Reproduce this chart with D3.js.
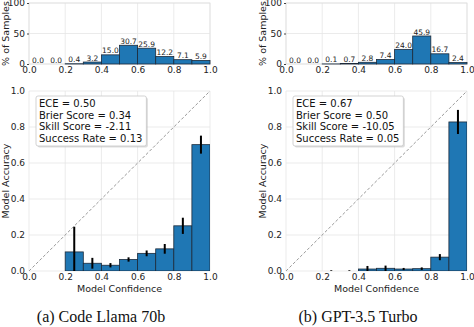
<!DOCTYPE html>
<html><head><meta charset="utf-8">
<script src="https://cdn.jsdelivr.net/npm/d3@7/dist/d3.min.js"></script>
<style>body{margin:0;background:#fff}svg{display:block}</style>
</head><body>
<svg id="c" width="474" height="327"></svg>
<script>
// ---- data ----
const binLower = [0.0,0.1,0.2,0.3,0.4,0.5,0.6,0.7,0.8,0.9];
const xTickLabels = ["0.0","0.2","0.4","0.6","0.8","1.0"];
const histTickLabels = ["0","50","100"];
const accTickLabels = ["0.0","0.2","0.4","0.6","0.8","1.0"];

const llamaSamples  = [0.0,0.0,0.4,3.2,15.0,30.7,25.9,12.2,7.1,5.9];
const llamaAccuracy = [null,null,0.106,0.043,0.032,0.064,0.098,0.123,0.251,0.702];
const llamaError    = [null,null,0.14,0.03,0.012,0.012,0.016,0.027,0.045,0.05];
const llamaStats = ["ECE = 0.50","Brier Score = 0.34","Skill Score = -2.11","Success Rate = 0.13"];
const llamaCaption = "(a) Code Llama 70b";

const gptSamples  = [0.0,0.0,0.1,0.7,2.8,7.4,24.0,45.9,16.7,2.4];
const gptAccuracy = [null,null,0.0,0.0,0.011,0.015,0.011,0.013,0.077,0.828];
const gptError    = [null,null,0.004,0.004,0.017,0.015,0.006,0.007,0.017,0.067];
const gptStats = ["ECE = 0.67","Brier Score = 0.50","Skill Score = -10.05","Success Rate = 0.05"];
const gptCaption = "(b) GPT-3.5 Turbo";

// ---- drawing ----
const svg = d3.select("#c");
const FONT = "DejaVu Sans, sans-serif";
const BAR = "#1f77b4", EDGE = "#1c2a3a", GRID = "#e6e6e6";

function panel(x0, samples, acc, err, stats, caption, clipId) {
  const g = svg.append("g");
  const x = d3.scaleLinear().domain([0,1]).range([x0, x0+181]);
  const yh = d3.scaleLinear().domain([0,100]).range([64,3]);
  const ya = d3.scaleLinear().domain([0,1]).range([271,91]);
  const xt = xTickLabels.map(Number);

  // ---- histogram ----
  g.append("g").selectAll("line").data(xt).join("line")
    .attr("x1",d=>x(d)).attr("x2",d=>x(d)).attr("y1",yh(0)).attr("y2",yh(100))
    .attr("stroke",GRID).attr("stroke-width",0.8);
  g.append("g").selectAll("line").data(histTickLabels.map(Number)).join("line")
    .attr("x1",x(0)).attr("x2",x(1)).attr("y1",d=>yh(d)).attr("y2",d=>yh(d))
    .attr("stroke",GRID).attr("stroke-width",0.8);
  g.append("rect").attr("x",x(0)).attr("y",yh(100)).attr("width",x(1)-x(0)).attr("height",yh(0)-yh(100))
    .attr("fill","none").attr("stroke","#e0e0e0").attr("stroke-width",0.8);
  g.append("g").selectAll("rect").data(binLower).join("rect")
    .attr("x",d=>x(d)).attr("width",d=>x(d+0.1)-x(d))
    .attr("y",(d,i)=>yh(samples[i])).attr("height",(d,i)=>yh(0)-yh(samples[i]))
    .attr("fill",BAR).attr("stroke",EDGE).attr("stroke-width",0.8);
  g.append("g").selectAll("text").data(binLower).join("text")
    .attr("x",d=>x(d+0.05)).attr("y",(d,i)=>yh(samples[i])-1.5)
    .attr("text-anchor","middle").attr("font-family",FONT).attr("font-size",7.5).attr("fill","#222")
    .text((d,i)=>samples[i].toFixed(1));
  // axes hist
  const hx = d3.axisBottom(x).tickValues(xt).tickFormat((d,i)=>xTickLabels[i]).tickSize(0).tickPadding(3);
  const hxg = g.append("g").attr("transform",`translate(0,${yh(0)})`).call(hx);
  const hy = d3.axisLeft(yh).tickValues(histTickLabels.map(Number)).tickFormat((d,i)=>histTickLabels[i]).tickSize(2).tickPadding(2);
  const hyg = g.append("g").attr("transform",`translate(${x(0)},0)`).call(hy);
  [hxg,hyg].forEach(a=>{a.select(".domain").remove();
    a.selectAll("text").attr("font-family",FONT).attr("font-size",9).attr("fill","#222");
    a.selectAll("line").attr("stroke","#444");});
  g.append("text").attr("transform",`translate(${x0-20.5},${(yh(0)+yh(100))/2}) rotate(-90)`)
    .attr("text-anchor","middle").attr("font-family",FONT).attr("font-size",9.5).attr("fill","#222")
    .text("% of Samples");

  // ---- reliability ----
  const yt = accTickLabels.map(Number);
  g.append("g").selectAll("line").data(xt).join("line")
    .attr("x1",d=>x(d)).attr("x2",d=>x(d)).attr("y1",ya(0)).attr("y2",ya(1))
    .attr("stroke",GRID).attr("stroke-width",0.8);
  g.append("g").selectAll("line").data(yt).join("line")
    .attr("x1",x(0)).attr("x2",x(1)).attr("y1",d=>ya(d)).attr("y2",d=>ya(d))
    .attr("stroke",GRID).attr("stroke-width",0.8);
  g.append("line").attr("x1",x(0)).attr("y1",ya(0)).attr("x2",x(1)).attr("y2",ya(1))
    .attr("stroke","#999").attr("stroke-width",1).attr("stroke-dasharray","3,2");
  svg.append("clipPath").attr("id",clipId).append("rect")
    .attr("x",x(0)).attr("y",ya(1)).attr("width",x(1)-x(0)).attr("height",ya(0)-ya(1));
  const idx = binLower.map((d,i)=>i).filter(i=>acc[i]!==null);
  const pg = g.append("g").attr("clip-path",`url(#${clipId})`);
  pg.selectAll("rect").data(idx).join("rect")
    .attr("x",i=>x(binLower[i])).attr("width",i=>x(binLower[i]+0.1)-x(binLower[i]))
    .attr("y",i=>ya(acc[i])).attr("height",i=>ya(0)-ya(acc[i]))
    .attr("fill",BAR).attr("stroke",EDGE).attr("stroke-width",0.8);
  pg.selectAll("line.err").data(idx).join("line").attr("class","err")
    .attr("x1",i=>x(binLower[i]+0.05)).attr("x2",i=>x(binLower[i]+0.05))
    .attr("y1",i=>ya(acc[i]-err[i])).attr("y2",i=>ya(acc[i]+err[i]))
    .attr("stroke","#000").attr("stroke-width",2);
  const ax = d3.axisBottom(x).tickValues(xt).tickFormat((d,i)=>xTickLabels[i]).tickSize(0).tickPadding(3);
  const axg = g.append("g").attr("transform",`translate(0,${ya(0)})`).call(ax);
  const ay = d3.axisLeft(ya).tickValues(yt).tickFormat((d,i)=>accTickLabels[i]).tickSize(0).tickPadding(4);
  const ayg = g.append("g").attr("transform",`translate(${x(0)},0)`).call(ay);
  [axg,ayg].forEach(a=>{a.select(".domain").remove();
    a.selectAll("text").attr("font-family",FONT).attr("font-size",9).attr("fill","#222");});
  g.append("text").attr("x",(x(0)+x(1))/2).attr("y",ya(0)+21)
    .attr("text-anchor","middle").attr("font-family",FONT).attr("font-size",9.5).attr("fill","#222")
    .text("Model Confidence");
  g.append("text").attr("transform",`translate(${x0-20.5},${(ya(0)+ya(1))/2}) rotate(-90)`)
    .attr("text-anchor","middle").attr("font-family",FONT).attr("font-size",9.5).attr("fill","#222")
    .text("Model Accuracy");

  // stats box
  const bx = x0+7, by = 96;
  const tmp = g.append("g");
  const lines = tmp.selectAll("text").data(stats).join("text")
    .attr("x",bx+3).attr("y",(d,i)=>by+11+i*11.7)
    .attr("font-family",FONT).attr("font-size",10).attr("fill","#111").text(d=>d);
  let w = 0; lines.each(function(){w=Math.max(w,this.getComputedTextLength());});
  g.insert("rect",()=>tmp.node()).attr("x",bx+1.5).attr("y",by+1.5).attr("width",w+7).attr("height",50).attr("rx",2)
    .attr("fill","#bbb").attr("opacity",0.5);
  g.insert("rect",()=>tmp.node()).attr("x",bx).attr("y",by).attr("width",w+7).attr("height",50).attr("rx",2)
    .attr("fill","#fff").attr("stroke","#c8c8c8").attr("stroke-width",0.8);

  svg.append("text").attr("x",x0+72).attr("y",322).attr("text-anchor","middle")
    .attr("font-family","Liberation Serif, Times New Roman, serif").attr("font-size",16).attr("fill","#111")
    .text(caption);
}
panel(29, llamaSamples, llamaAccuracy, llamaError, llamaStats, llamaCaption, "clipA");
panel(286, gptSamples, gptAccuracy, gptError, gptStats, gptCaption, "clipB");
</script>
</body></html>
